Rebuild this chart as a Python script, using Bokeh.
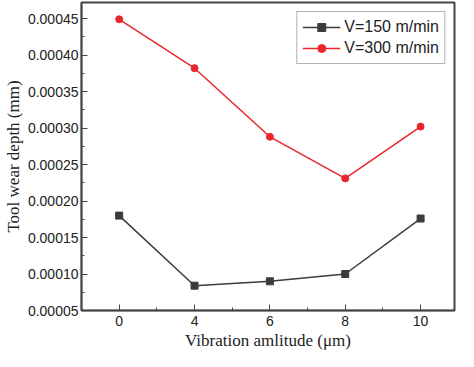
from bokeh.plotting import figure
from bokeh.models import FixedTicker, PrintfTickFormatter, Range1d, Legend, LegendItem
from bokeh.embed import file_html
from bokeh.resources import INLINE

categories = ["0", "4", "6", "8", "10"]
v150 = [0.000180, 0.000084, 0.000090, 0.000100, 0.000176]
v300 = [0.000449, 0.000382, 0.000288, 0.000231, 0.000302]
y_ticks = [0.00005, 0.00010, 0.00015, 0.00020, 0.00025, 0.00030, 0.00035, 0.00040, 0.00045]

xs = list(range(len(categories)))

p = figure(width=458, height=352, output_backend="svg", toolbar_location=None,
           x_range=Range1d(-0.5, len(categories) - 0.55), y_range=Range1d(0.00005, 0.000472),
           min_border_left=60, min_border_right=4, min_border_top=2, min_border_bottom=30)
p.xgrid.visible = False
p.ygrid.visible = False
p.outline_line_color = "#444444"
p.outline_line_width = 2
p.background_fill_color = "white"

black = "#3c3c3c"
red = "#e8262b"
l1 = p.line(xs, v150, line_color=black, line_width=1.5)
m1 = p.scatter(xs, v150, marker="square", size=7, fill_color=black, line_color=black)
l2 = p.line(xs, v300, line_color=red, line_width=1.5)
m2 = p.scatter(xs, v300, marker="circle", size=7, fill_color=red, line_color=red)

p.xaxis.ticker = FixedTicker(ticks=xs, minor_ticks=[i + 0.5 for i in xs[:-1]])
p.xaxis.major_label_overrides = {i: c for i, c in enumerate(categories)}
p.yaxis.ticker = FixedTicker(ticks=y_ticks, minor_ticks=[t + 0.000025 for t in y_ticks])
p.yaxis.formatter = PrintfTickFormatter(format="%.5f")

for ax in (p.xaxis, p.yaxis):
    ax.axis_line_color = "#444444"
    ax.axis_line_width = 1.5
    ax.major_tick_in = 6
    ax.major_tick_out = 0
    ax.minor_tick_in = 3
    ax.minor_tick_out = 0
    ax.major_tick_line_color = "#444444"
    ax.minor_tick_line_color = "#444444"
    ax.major_label_text_font = "Liberation Sans"
    ax.major_label_text_font_size = "14px"
    ax.major_label_text_color = "#222222"
    ax.axis_label_text_font = "Liberation Serif"
    ax.axis_label_text_font_size = "17px"
    ax.axis_label_text_font_style = "normal"
    ax.axis_label_text_color = "#222222"

p.xaxis.axis_label = "Vibration amlitude (μm)"
p.yaxis.axis_label = "Tool wear depth (mm)"
p.xaxis.major_label_standoff = 5
p.yaxis.major_label_standoff = 3
p.xaxis.axis_label_standoff = 2
p.yaxis.axis_label_standoff = 2

legend = Legend(items=[LegendItem(label="V=150 m/min", renderers=[l1, m1]),
                       LegendItem(label="V=300 m/min", renderers=[l2, m2])],
                location="top_right")
legend.label_text_font = "Liberation Sans"
legend.label_text_font_size = "16px"
legend.label_text_color = "#222222"
legend.border_line_color = "#666666"
legend.border_line_width = 1
legend.glyph_width = 38
legend.glyph_height = 20
legend.label_height = 20
legend.spacing = 1
legend.padding = 5
legend.margin = 9
legend.label_standoff = 4
p.add_layout(legend)

open("out.html", "w").write(file_html(p, INLINE))
